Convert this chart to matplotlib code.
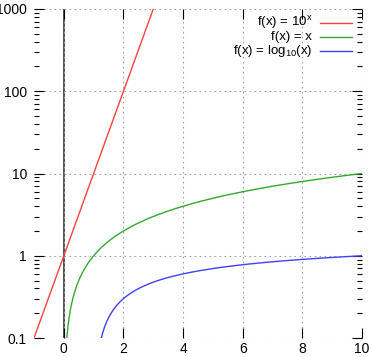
import numpy as np
import matplotlib
matplotlib.use("Agg")
import matplotlib.pyplot as plt
from matplotlib.ticker import LogLocator, FixedLocator, NullFormatter

plt.rcParams["font.family"] = ["Liberation Sans", "DejaVu Sans"]
plt.rcParams["mathtext.fontset"] = "custom"
plt.rcParams["mathtext.rm"] = "Liberation Sans"

x_range = (-1, 10)
y_range = (0.1, 1000)
x_ticks = [0, 2, 4, 6, 8, 10]
y_ticks = [0.1, 1, 10, 100, 1000]
y_tick_labels = ["0.1", "1", "10", "100", "1000"]

labels = [r"f(x) = 10$^\mathregular{x}$", "f(x) = x", r"f(x) = log$_\mathregular{10}$(x)"]
colors = ["#ff4040", "#33a833", "#4040ff"]

x = np.linspace(-1, 10, 2000)

fig = plt.figure(figsize=(3.72, 3.57), dpi=100)
ax = fig.add_axes([34 / 372, 19 / 357, 328 / 372, 329 / 357])

ax.axvline(0, color="#202020", lw=1.1, zorder=1)

with np.errstate(all="ignore"):
    pos = np.where(x > 0, x, np.nan)
    ys = [10.0 ** x, pos, np.log10(pos)]
for y, c in zip(ys, colors):
    ax.plot(x, y, color=c, lw=1.0, zorder=2)

ax.set_yscale("log")
ax.set_xlim(*x_range)
ax.set_ylim(*y_range)
ax.xaxis.set_major_locator(FixedLocator(x_ticks))
ax.set_yticks(y_ticks)
ax.set_yticklabels(y_tick_labels)
for t in ax.get_yticklabels():
    t.set_va("center_baseline")
ax.yaxis.set_minor_locator(LogLocator(base=10, subs=np.arange(2, 10)))
ax.yaxis.set_minor_formatter(NullFormatter())

for s in ax.spines.values():
    s.set_visible(False)
ax.tick_params(which="both", direction="in", top=True, right=True, colors="#000000",
               labelsize=10, width=0.8)
ax.tick_params(which="major", length=7, pad=5)
ax.tick_params(axis="x", which="major", pad=3)
ax.tick_params(which="minor", length=3.5)
ax.grid(True, which="major", color="#a0a0a0", ls=(0, (1.5, 3)), lw=0.8)

# gnuplot-style key: text right-aligned, sample line on the right
key_rows = [0.958, 0.915, 0.873]
for lab, c, ky in zip(labels, colors, key_rows):
    ax.text(0.848, ky, lab, transform=ax.transAxes, ha="right", va="center", fontsize=9.5)
    ax.plot([0.872, 0.970], [ky, ky], transform=ax.transAxes, color=c, lw=1.0)

fig.savefig("out.png", dpi=100)
